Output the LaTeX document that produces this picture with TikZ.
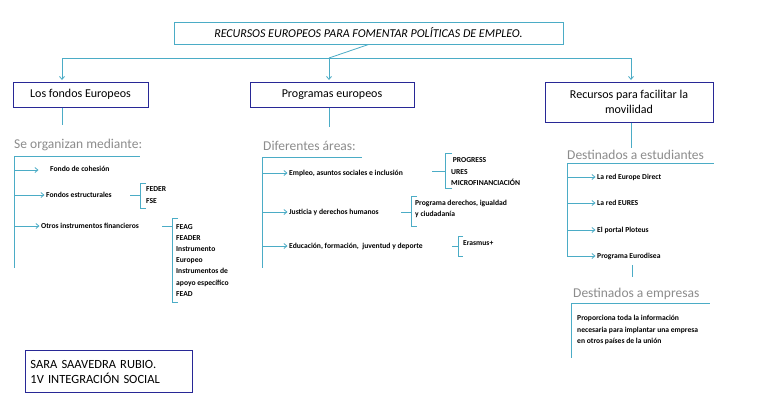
\documentclass[tikz,border=0pt]{standalone}
\usepackage{fontspec}
\setmainfont{Carlito}
\usetikzlibrary{arrows.meta}
\definecolor{ln}{RGB}{75,172,198}
\definecolor{bx}{RGB}{40,40,150}
\definecolor{gr}{RGB}{140,140,140}
\tikzset{
  ln/.style={draw=ln,line width=0.8pt},
  arr/.style={ln,-{Straight Barb[length=3pt,width=5pt]},shorten >=1.5pt},
  mainbox/.style={draw=bx,line width=1pt,fill=white,align=center,font=\fontsize{12}{14.5}\selectfont},
  head/.style={anchor=west,text=gr,font=\fontsize{13.5}{15}\selectfont,inner sep=0pt},
  itm/.style={anchor=west,font=\bfseries\fontsize{7.6}{11.5}\selectfont,inner sep=0pt,align=left},
}
\begin{document}
\begin{tikzpicture}[x=1pt,y=-1pt]
\path[use as bounding box,fill=white] (0,0) rectangle (768,418);
% top
\node[draw=ln,line width=1pt,minimum width=389pt,minimum height=22pt,font=\itshape\fontsize{12}{14}\selectfont] (top) at (368.5,33) {RECURSOS EUROPEOS PARA FOMENTAR POLÍTICAS DE EMPLEO.};
\node[mainbox,minimum width=135pt,minimum height=25pt] (b1) at (80.5,94.5) {Los fondos Europeos};
\node[mainbox,minimum width=164pt,minimum height=25pt] (b2) at (332,94.5) {Programas europeos};
\node[mainbox,minimum width=168pt,minimum height=40pt] (b3) at (629,102) {Recursos para facilitar la\\movilidad};
\coordinate (h) at (329,58);
\draw[ln] (top.south) -- (h);
\draw[ln] (62,58) -- (631,58);
\draw[arr] (62,58) -- (b1.north -| 62,0);
\draw[arr] (329,58) -- (b2.north -| 329,0);
\draw[arr] (631,58) -- (b3.north -| 631,0);
% left
\draw[ln] (b1.south -| 62,0) -- (62,125);
\node[head] (h1) at (14,145) {Se organizan mediante:};
\draw[ln] (14,156) -- (140,156);
\draw[ln] (14,156) -- (14,268);
\node[itm] (l1) at (50,169) {Fondo de cohesión};
\node[itm] (l2) at (46,195) {Fondos estructurales};
\node[itm] (l3) at (41,226) {Otros instrumentos financieros};
\draw[arr] (14,170) -- (40,170);
\draw[arr] (14,195) -- (l2.west);
\draw[arr] (14,226) -- (l3.west);
\draw[ln] (130,195) -- (140,195);
\draw[ln] (146,183) -- (140,183) -- (140,208) -- (146,208);
\node[itm] (f1) at (146,195) {FEDER\\FSE};
\draw[ln] (162,226) -- (172,226);
\draw[ln] (178,218) -- (172,218) -- (172,302) -- (178,302);
\node[itm,anchor=north west,font=\bfseries\fontsize{7.6}{11.2}\selectfont] (f2) at (176,224) {FEAG\\FEADER\\Instrumento\\Europeo\\Instrumentos de\\apoyo específico\\FEAD};
% middle
\draw[ln] (b2.south -| 329,0) -- (329,127);
\node[head] (h2) at (263,146) {Diferentes áreas:};
\draw[ln] (262,157) -- (362,157);
\draw[ln] (262,157) -- (262,268);
\node[itm] (m1) at (289,173) {Empleo, asuntos sociales e inclusión};
\node[itm] (m2) at (289,212) {Justicia y derechos humanos};
\node[itm] (m3) at (289,246) {Educación, formación,\ \ juventud y deporte};
\draw[arr] (262,173) -- (m1.west);
\draw[arr] (262,212) -- (m2.west);
\draw[arr] (262,246) -- (m3.west);
\draw[ln] (432,171) -- (445,171);
\draw[ln] (452,153) -- (445,153) -- (445,188) -- (452,188);
\node[itm] (p1) at (451,172) {\ PROGRESS\\URES\\MICROFINANCIACIÓN};
\draw[ln] (401,212) -- (411,212);
\draw[ln] (417,196) -- (411,196) -- (411,226) -- (417,226);
\node[itm] (p2) at (415,209) {Programa derechos, igualdad\\y ciudadanía};
\draw[ln] (452,246) -- (458,246);
\draw[ln] (463,236) -- (458,236) -- (458,256) -- (463,256);
\node[itm] (p3) at (463,243) {Erasmus+};
% right
\draw[ln] (b3.south -| 631,0) -- (631,148);
\node[head] (h3) at (567,155) {Destinados a estudiantes};
\draw[ln] (567,163) -- (714,163);
\draw[ln] (567,163) -- (567,256);
\node[itm] (r1) at (597,177) {La red Europe Direct};
\node[itm] (r2) at (597,203) {La red EURES};
\node[itm] (r3) at (597,230) {El portal Ploteus};
\node[itm] (r4) at (597,256) {Programa Eurodisea};
\foreach \r in {r1,r2,r3,r4} \draw[arr] (\r.west -| 567,0) -- (\r.west);
\draw[ln] (632,265) -- (632,277);
\node[head] (h4) at (573,294) {Destinados a empresas};
\draw[ln] (571,303) -- (710,303);
\draw[ln] (571,303) -- (571,358);
\node[itm,anchor=north west] (e1) at (577,315) {Proporciona toda la información\\necesaria para implantar una empresa\\en otros países de la unión};
% author
\node[draw=bx,line width=1pt,minimum width=167pt,minimum height=42pt,anchor=north west,align=left,text width=157pt,font=\fontsize{12.5}{15}\selectfont] (au) at (25,350) {SARA SAAVEDRA RUBIO.\\1V INTEGRACIÓN SOCIAL};
\end{tikzpicture}
\end{document}
